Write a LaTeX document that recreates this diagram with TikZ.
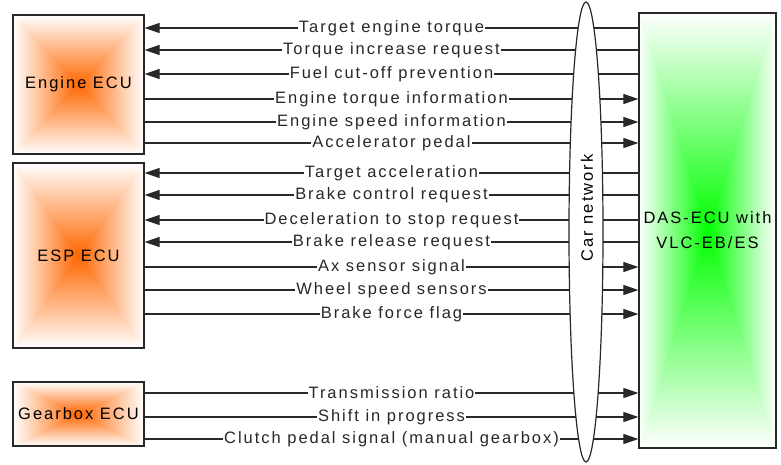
\documentclass[tikz,border=0pt]{standalone}
\usepackage{fontspec}
\setmainfont{Liberation Sans}[LetterSpace=12]
\usetikzlibrary{arrows.meta, positioning, shapes.geometric}
\definecolor{mydark}{RGB}{40,40,40}
% pyramid-like glow: strong in the middle, white at the border
\pgfdeclarefunctionalshading{ecuglow}{\pgfpoint{-50bp}{-50bp}}{\pgfpoint{50bp}{50bp}}{}{
  abs exch abs 2 copy lt {exch} if pop 25 div dup 1 gt {pop 1} if
  dup 0.6 mul 0.4 add exch 1 3 1 roll}
\pgfdeclarefunctionalshading{dasglow}{\pgfpoint{-50bp}{-50bp}}{\pgfpoint{50bp}{50bp}}{}{
  abs exch abs 2 copy lt {exch} if pop 25 div dup 1 gt {pop 1} if
  dup 1 exch}
\tikzset{
  ecu/.style={rectangle, draw=mydark, shading=ecuglow, align=center,
    minimum width=131pt, inner sep=0pt, line width=1.2pt},
  dasbox/.style={rectangle, draw=mydark, shading=dasglow, align=center,
    minimum width=137pt, minimum height=435pt, inner sep=0pt, line width=1.2pt},
  sig/.style={fill=white, inner xsep=1pt, inner ysep=0pt},
  toecu/.style={{Triangle[length=15pt,width=10pt]}-, line width=1.1pt, color=mydark},
  todas/.style={-{Triangle[length=15pt,width=10pt]}, line width=1.1pt, color=mydark}
}

\begin{document}
\begin{tikzpicture}[x=1pt, y=-1pt, font=\fontsize{16.5}{25}\selectfont]
  \useasboundingbox (0,0) rectangle (781,464);

  % ECUs
  \node[ecu, minimum height=139pt] (eng) at (78.5,84.5) {Engine ECU};
  \node[ecu, minimum height=185pt] (esp) at (78.5,255.5) {ESP ECU};
  \node[ecu, minimum height=64pt] (gear) at (78.5,414) {Gearbox ECU};
  \node[dasbox] (das) at (707.5,230.5) {DAS-ECU with\\VLC-EB/ES};

  % Engine ECU signals
  \draw[toecu] (eng.east |- 0,28) -- node[sig] {Target engine torque} (das.west |- 0,28);
  \draw[toecu] (eng.east |- 0,50) -- node[sig] {Torque increase request} (das.west |- 0,50);
  \draw[toecu] (eng.east |- 0,74) -- node[sig] {Fuel cut-off prevention} (das.west |- 0,74);
  \draw[todas] (eng.east |- 0,99) -- node[sig] {Engine torque information} (das.west |- 0,99);
  \draw[todas] (eng.east |- 0,122) -- node[sig] {Engine speed information} (das.west |- 0,122);
  \draw[todas] (eng.east |- 0,143) -- node[sig] {Accelerator pedal} (das.west |- 0,143);

  % ESP ECU signals
  \draw[toecu] (esp.east |- 0,173) -- node[sig] {Target acceleration} (das.west |- 0,173);
  \draw[toecu] (esp.east |- 0,195) -- node[sig] {Brake control request} (das.west |- 0,195);
  \draw[toecu] (esp.east |- 0,220) -- node[sig] {Deceleration to stop request} (das.west |- 0,220);
  \draw[toecu] (esp.east |- 0,242) -- node[sig] {Brake release request} (das.west |- 0,242);
  \draw[todas] (esp.east |- 0,267) -- node[sig] {Ax sensor signal} (das.west |- 0,267);
  \draw[todas] (esp.east |- 0,290) -- node[sig] {Wheel speed sensors} (das.west |- 0,290);
  \draw[todas] (esp.east |- 0,314) -- node[sig] {Brake force flag} (das.west |- 0,314);

  % Gearbox ECU signals
  \draw[todas] (gear.east |- 0,393) -- node[sig] {Transmission ratio} (das.west |- 0,393);
  \draw[todas] (gear.east |- 0,417) -- node[sig] {Shift in progress} (das.west |- 0,417);
  \draw[todas] (gear.east |- 0,439) -- node[sig] {Clutch pedal signal (manual gearbox)} (das.west |- 0,439);

  % Car network
  \node[ellipse, draw=mydark, fill=white, line width=1.2pt, inner sep=0pt,
    minimum width=34pt, minimum height=460pt] (net) at (586,232) {};
  \node[rotate=90] (netlbl) at (587,208) {Car network};
\end{tikzpicture}
\end{document}
